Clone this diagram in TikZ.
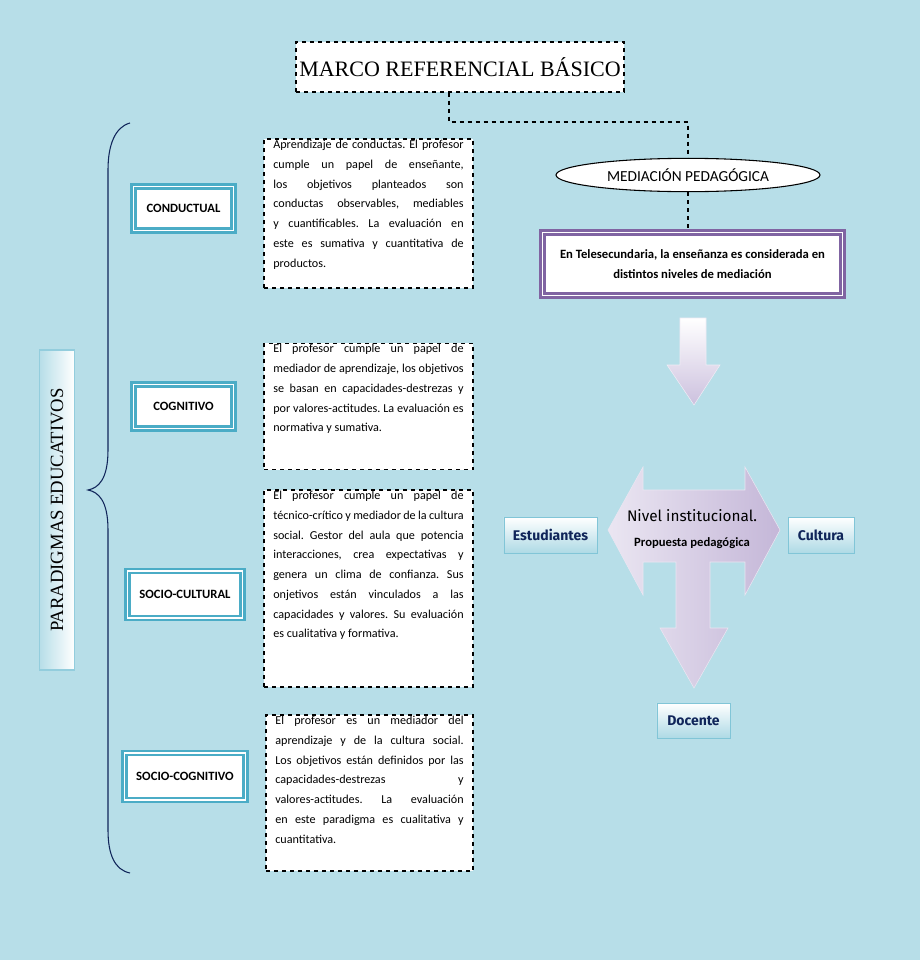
\documentclass[tikz,border=0pt]{standalone}
\usepackage{fontspec}
\setmainfont{Carlito}
\newfontfamily\titlef{Liberation Serif}
\newfontfamily\labf{Fira Sans}
\usetikzlibrary{shapes.geometric}
\definecolor{bg}{RGB}{183,222,232}
\definecolor{teal}{RGB}{75,172,198}
\definecolor{purp}{RGB}{128,100,162}
\definecolor{lila}{RGB}{204,192,222}
\definecolor{navy}{RGB}{16,37,90}
\newcommand{\ptxt}[3]{\parbox[c][#2][t]{#1}{\frenchspacing\hyphenpenalty=10000\exhyphenpenalty=10000\fontsize{9.1}{14.8}\selectfont\vspace*{1pt}#3}}
\begin{document}
\begin{tikzpicture}[x=0.75pt,y=-0.75pt,
 dbox/.style={draw,dashed,thick,fill=white,inner sep=0pt},
 para/.style={dbox,inner xsep=7pt,inner ysep=0pt,align=justify},
 lab/.style={draw=teal,line width=1.8pt,fill=white,font=\fontsize{9.5}{11}\selectfont\bfseries,double=white,double distance=1.2pt,inner sep=0pt},
 tag/.style={draw=teal!70,top color=white,bottom color=teal!45,font=\labf\fontsize{10.5}{12}\selectfont\bfseries,text=navy,inner sep=0pt},
 conn/.style={dashed,thick}]
\fill[bg] (0,0) rectangle (920,960);
\useasboundingbox (0,0) rectangle (920,960);
% title
\node[dbox,minimum width=246pt,minimum height=37.5pt,font=\titlef\fontsize{16.5}{20}\selectfont] (title) at (460,67) {MARCO REFERENCIAL BÁSICO};
\node[draw,thick,fill=white,ellipse,minimum width=198pt,minimum height=25pt,inner sep=0pt,font=\fontsize{11.5}{13}\selectfont] (med) at (688,175) {MEDIACIÓN PEDAGÓGICA};
\coordinate (c1) at (449,122);
\coordinate (c2) at (688,122);
\draw[conn] (title.south -| c1) -- (c1) -- (c2) -- (med.north);
\node[draw=purp,line width=2pt,double=white,double distance=1.2pt,fill=white,minimum width=225pt,minimum height=47pt,align=center,font=\fontsize{9.5}{15}\selectfont\bfseries] (tel) at (692.5,264) {En Telesecundaria, la enseñanza es considerada en\\distintos niveles de mediación};
\draw[conn] (med.south) -- (med.south |- tel.north);
% down arrow
\shade[top color=white,bottom color=lila,draw=white!70!lila] (680,318) -- (706,318) -- (706,365) -- (720,365) -- (694,405) -- (667,365) -- (680,365) -- cycle;
% cross arrow
\shade[left color=white!60!lila,right color=lila!90!purp,draw=white!60!lila] (608,530) -- (643,467) -- (643,490) -- (745,490) -- (745,467) -- (780,530) -- (745,595) -- (745,562) -- (710,562) -- (710,628) -- (728,628) -- (694,688) -- (660,628) -- (676,628) -- (676,562) -- (643,562) -- (643,595) -- cycle;
\node[font=\labf\fontsize{11.5}{13}\selectfont] (niv) at (692,516) {Nivel institucional.};
\node[font=\fontsize{9.5}{11}\selectfont\bfseries] (prop) at (692,543) {Propuesta pedagógica};
\node[tag,minimum width=70pt,minimum height=27pt] (est) at (550.5,535) {Estudiantes};
\node[tag,minimum width=49.5pt,minimum height=27pt] (cul) at (821,535) {Cultura};
\node[tag,minimum width=55pt,minimum height=26pt] (doc) at (693.5,720.5) {Docente};
% brace
\draw[navy,thick] (130,123) .. controls (115,127) and (108,145) .. (108,170) -- (108,450) .. controls (108,480) and (98,488) .. (88,490) .. controls (98,492) and (108,500) .. (108,530) -- (108,830) .. controls (108,855) and (115,870) .. (130,873);
\node[draw=teal!60,line width=1pt,left color=teal!40,right color=white,minimum width=240pt,minimum height=26pt,rotate=90,inner sep=0pt,font=\titlef\fontsize{14}{16}\selectfont] (par) at (57,510) {PARADIGMAS EDUCATIVOS};
% labels
\node[lab,minimum width=75pt,minimum height=33pt] (l1) at (183.5,208.5) {CONDUCTUAL};
\node[lab,minimum width=75pt,minimum height=33pt] (l2) at (183.5,406.5) {COGNITIVO};
\node[lab,minimum width=86pt,minimum height=35pt] (l3) at (185,594.5) {SOCIO-CULTURAL};
\node[lab,minimum width=91pt,minimum height=35pt] (l4) at (185,776.5) {SOCIO-COGNITIVO};
% paragraphs
\node[para] (p1) at (368.5,213.5) {\ptxt{142.75pt}{111.75pt}{Aprendizaje de conductas. El profesor cumple un papel de enseñante, los objetivos planteados son conductas observables, mediables y cuantificables. La evaluación en este es sumativa y cuantitativa de productos.}};
\node[para] (p2) at (368.5,406.5) {\ptxt{142.75pt}{95pt}{El profesor cumple un papel de mediador de aprendizaje, los objetivos se basan en capacidades-destrezas y por valores-actitudes. La evaluación es normativa y sumativa.}};
\node[para] (p3) at (368.5,588.5) {\ptxt{142.75pt}{147.75pt}{El profesor cumple un papel de técnico-crítico y mediador de la cultura social. Gestor del aula que potencia interacciones, crea expectativas y genera un clima de confianza. Sus onjetivos están vinculados a las capacidades y valores. Su evaluación es cualitativa y formativa.}};
\node[para] (p4) at (369.5,793) {\ptxt{141.25pt}{117pt}{El profesor es un mediador del aprendizaje y de la cultura social. Los objetivos están definidos por las capacidades-destrezas\hfill y\linebreak valores-actitudes. La evaluación en este paradigma es cualitativa y cuantitativa.}};
\end{tikzpicture}
\end{document}
